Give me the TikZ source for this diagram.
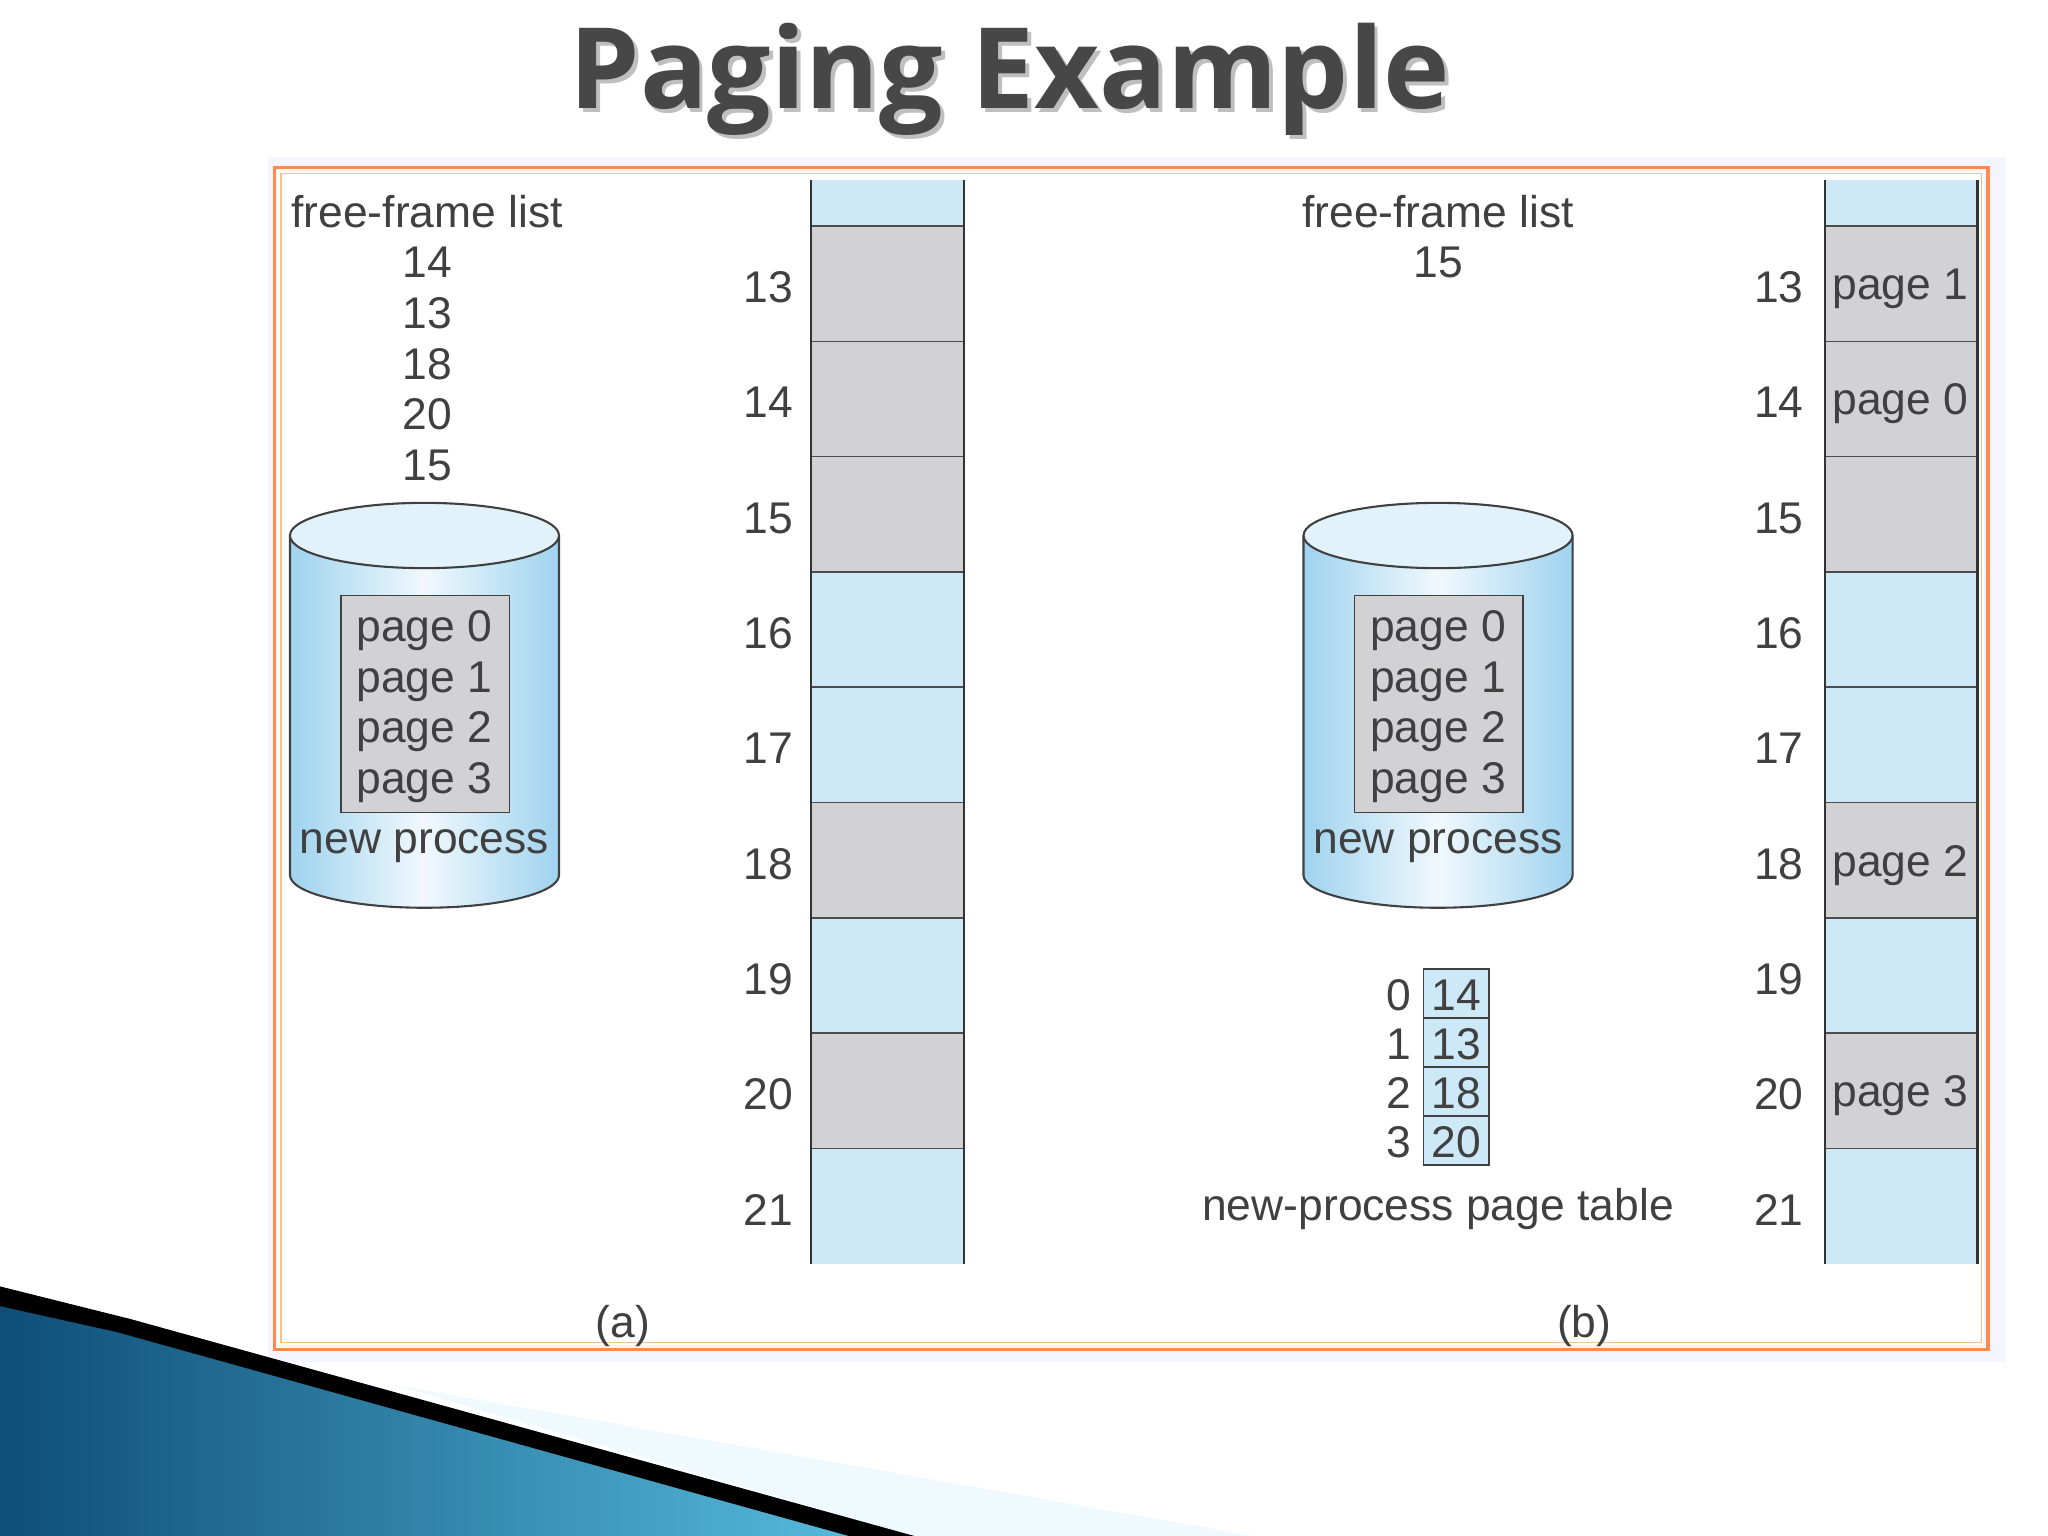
\documentclass[tikz,border=0pt]{standalone}
\usepackage{fontspec}
\setmainfont{Liberation Sans}
\newfontfamily\titlefont{Open Sans}
\begin{document}
\begin{tikzpicture}[x=0.5pt,y=-0.5pt,
  lbl/.style={font=\fontsize{17}{17}\selectfont,text=black!75,inner sep=0pt},
]
\useasboundingbox (0,0) rectangle (1568,1176);
\definecolor{mblue}{HTML}{CDE8F7}
\definecolor{mgray}{HTML}{D2D2D4}
\definecolor{cylb}{HTML}{9FD3EF}
\definecolor{swdark}{HTML}{0E4E78}
\definecolor{swlight}{HTML}{5BC2E2}
% title
\node[font=\titlefont\bfseries\fontsize{43}{43}\selectfont,text=black!25,inner sep=0pt] at (776,64) {Paging Example};
\node[font=\titlefont\bfseries\fontsize{43}{43}\selectfont,text=black!72,inner sep=0pt] (title) at (773,61) {Paging Example};
% panel
\fill[blue!4] (205,120) rectangle (1536,1043);
\fill[white] (213,131) rectangle (1519,1030);
\draw[orange!70!red!70,line width=1.2pt] (210,128) rectangle (1522,1033);
\draw[orange!50,line width=0.6pt] (215,133) rectangle (1517,1028);
% swoosh
\shade[left color=swdark, right color=swlight] (0,985) -- (0,1176) -- (700,1176) -- (100,1010) -- cycle;
\fill[cyan!10!white,opacity=0.6] (300,1060) -- (700,1176) -- (960,1176) -- cycle;
\fill[black] (0,985) -- (100,1010) -- (700,1176) -- (650,1176) -- (90,1020) -- (0,1000) -- cycle;
% memory columns
\foreach \cx/\lx in {621/588,1397/1362}{
  \fill[mblue] (\cx,138) rectangle ++(117,35);
  \foreach \i/\n in {0/13,1/14,2/15,3/16,4/17,5/18,6/19,7/20,8/21}{
    \pgfmathsetmacro{\yy}{173+88.3*\i}
    \node[lbl] at (\lx,\yy+47) {\n};
  }
}
\foreach \cx in {621,1397}{
 \foreach \i/\c in {0/mgray,1/mgray,2/mgray,3/mblue,4/mblue,5/mgray,6/mblue,7/mgray,8/mblue}{
  \pgfmathsetmacro{\yy}{173+88.3*\i}
  \fill[\c] (\cx,\yy) rectangle ++(117,88.3);
  \draw[black!70,line width=0.6pt] (\cx,\yy) -- ++(117,0);
 }
 \draw[black!80,line width=0.8pt] (\cx,138) -- (\cx,968) (\cx+117,138) -- (\cx+117,968);
}
\foreach \i/\t in {0/page 1,1/page 0,5/page 2,7/page 3}{
  \node[lbl] at (1455,221+88.3*\i) {\t};
}
% free-frame lists
\node[lbl] (ffa) at (327,162) {free-frame list};
\foreach \n [count=\k from 0] in {14,13,18,20,15} \node[lbl] at (327,201+38.8*\k) {\n};
\node[lbl] (ffb) at (1101,162) {free-frame list};
\node[lbl] at (1101,201) {15};
% cylinders
\foreach \cx in {325,1101}{
  \shade[left color=cylb,right color=cylb,middle color=white!85!cylb] (\cx-103,410) rectangle (\cx+103,670);
  \shade[left color=cylb,right color=cylb,middle color=white!85!cylb] (\cx,670) ellipse [x radius=51.5pt,y radius=12.5pt];
  \draw[black!75,line width=0.8pt] (\cx-103,410) -- (\cx-103,670) arc[start angle=180,end angle=360,x radius=51.5pt,y radius=12.5pt] -- (\cx+103,410);
  \filldraw[fill=white!70!cylb,draw=black!75,line width=0.8pt] (\cx,410) ellipse [x radius=51.5pt,y radius=12.5pt];
  \filldraw[fill=mgray,draw=black!75,line width=0.6pt] (\cx-64,456) rectangle (\cx+65,622);
  \foreach \t [count=\k from 0] in {page 0,page 1,page 2,page 3} \node[lbl] at (\cx,483+38.7*\k) {\t};
  \node[lbl] at (\cx,648) {new process};
}
% page table
\foreach \n/\f [count=\k from 0] in {0/14,1/13,2/18,3/20}{
  \draw[fill=mblue,draw=black!75,line width=0.6pt] (1090,742+37.5*\k) rectangle ++(50,37.5);
  \node[lbl] at (1115,762+37.5*\k) {\f};
  \node[lbl] at (1071,762+37.5*\k) {\n};
}
\node[lbl] (pt) at (1101,926) {new-process page table};
\node[lbl] (la) at (477,1015) {(a)};
\node[lbl] (lb) at (1213,1015) {(b)};
\end{tikzpicture}
\end{document}
